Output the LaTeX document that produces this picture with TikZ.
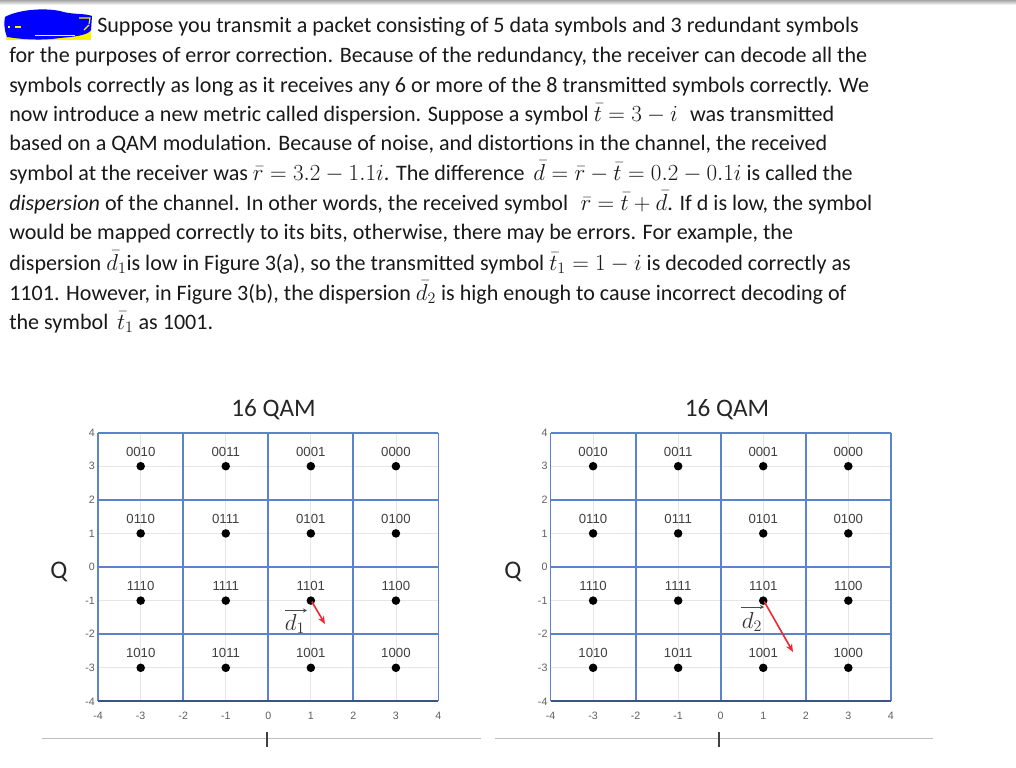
\documentclass[tikz,border=0pt]{standalone}
\usepackage{fontspec}
\usepackage{amsmath}
\setmainfont{Carlito}
\newfontfamily\plotfont{Liberation Sans}
\usetikzlibrary{arrows.meta}
\definecolor{gridblue}{RGB}{90,130,205}
\definecolor{txt}{RGB}{25,25,25}
\definecolor{ticktxt}{RGB}{95,95,95}
\definecolor{lightgrid}{RGB}{230,230,230}
\definecolor{ruleg}{RGB}{190,190,190}
\definecolor{redarrow}{RGB}{240,40,50}
\tikzset{
 x=0.75pt,y=-0.75pt,
 para/.style={anchor=base west,inner sep=0pt,text=txt,font=\fontsize{16.55}{20}\selectfont},
 title16/.style={inner sep=0pt,text=black!85,font=\fontsize{18.9}{22}\selectfont},
 qlabel/.style={inner sep=0pt,text=black!85,font=\fontsize{19}{22}\selectfont},
 ticklab/.style={inner sep=0pt,text=ticktxt,font=\plotfont\fontsize{8}{9}\selectfont},
 bitlab/.style={inner sep=0pt,text=black!75,font=\plotfont\fontsize{9.9}{11}\selectfont},
 symdot/.style={circle,fill=black,inner sep=0pt,minimum size=6.4pt},
 cellline/.style={gridblue,line width=1.35pt},
 faint/.style={lightgrid,line width=0.6pt},
 redvec/.style={redarrow,line width=1.2pt,-{Stealth[length=6pt,width=5pt]}},
 overvec/.style={black!70,line width=0.7pt,-{Stealth[length=3pt,width=3pt]}},
 vlabel/.style={inner sep=0pt,text=black!80,font=\fontsize{17}{20}\selectfont},
 baseline rule/.style={ruleg,line width=0.8pt},
 origin tick/.style={black!75,line width=1.1pt},
}
\newcommand{\qamplot}[4]{% #1 prefix, #2 left px, #3 zero px, #4 right px
 \pgfmathsetmacro{\unitx}{(#4-#2)/8}
 \foreach \k in {-3,-1,1,3}{
  \pgfmathsetmacro{\gx}{#3+\k*\unitx}
  \pgfmathsetmacro{\gy}{567-\k*33.6}
  \draw[faint] (\gx,432.7) -- (\gx,700.7);
  \draw[faint] (#2,\gy) -- (#4,\gy);
 }
 \foreach \k in {-4,-2,0,2,4}{
  \pgfmathsetmacro{\gx}{#3+\k*\unitx}
  \pgfmathsetmacro{\gy}{567-\k*33.6}
  \draw[cellline] (\gx,432.7) -- (\gx,700.7);
  \draw[cellline] (#2,\gy) -- (#4,\gy);
 }
 \draw[gridblue!65!black,line width=1.5pt] (#2,700.7) -- (#4,700.7);
 \foreach \k in {-4,...,4}{
  \pgfmathsetmacro{\gx}{#3+\k*\unitx}
  \pgfmathsetmacro{\gy}{567-\k*33.6}
  \node[ticklab] (#1tx\k) at (\gx,715.5) {\k};
  \node[ticklab,anchor=east] (#1ty\k) at (#2-3,\gy) {\k};
 }
 \foreach \px/\py/\bits in {-3/3/0010,-1/3/0011,1/3/0001,3/3/0000,
   -3/1/0110,-1/1/0111,1/1/0101,3/1/0100,
   -3/-1/1110,-1/-1/1111,1/-1/1101,3/-1/1100,
   -3/-3/1010,-1/-3/1011,1/-3/1001,3/-3/1000}{
  \pgfmathsetmacro{\gx}{#3+\px*\unitx}
  \pgfmathsetmacro{\gy}{567-\py*33.6}
  \node[symdot] (#1d\bits) at (\gx,\gy) {};
  \node[bitlab] (#1b\bits) at (\gx,\gy-14.5) {\bits};
 }
}
\begin{document}
\begin{tikzpicture}
\useasboundingbox (0,0) rectangle (1016,767);
\fill[white] (0,0) rectangle (1016,767);
\shade[top color=black!35,bottom color=white] (0,0) rectangle (1016,5);
% redaction
\fill[yellow] (6,31) rectangle (91,40);
\fill[blue] (5,17) .. controls (15,11) and (40,7) .. (60,11) .. controls (72,15) and (85,13) .. (92,16)
  -- (91,30) .. controls (88,36) and (70,37) .. (60,38) .. controls (40,41) and (20,39) .. (7,37) .. controls (4,30) and (4,22) .. (5,17) -- cycle;
\draw[yellow,line width=0.8pt] (8,27) -- (10,27);
\draw[yellow,line width=0.8pt] (15,27) -- (21,27);
\draw[yellow,line width=0.8pt] (79,18) -- (90,18) -- (89,24);
\draw[yellow,line width=0.8pt] (84,30) -- (89,25);
\draw[yellow!60!white,line width=0.6pt] (35,35) -- (75,35);
% paragraph
\node[para] (l1) at (97,33) {Suppose you transmit a packet consisting of 5 data symbols and 3 redundant symbols};
\node[para] (l2) at (9,63) {for the purposes of error correction. Because of the redundancy, the receiver can decode all the};
\node[para] (l3) at (9,92) {symbols correctly as long as it receives any 6 or more of the 8 transmitted symbols correctly. We};
\node[para] (l4) at (9,121) {now introduce a new metric called dispersion. Suppose a symbol $\bar{t}=3-i$\,\, was transmitted};
\node[para] (l5) at (9,150) {based on a QAM modulation. Because of noise, and distortions in the channel, the received};
\node[para] (l6) at (9,180) {symbol at the receiver was $\bar{r}=3.2-1.1i$. The difference $\,\bar{d}=\bar{r}-\bar{t}=0.2-0.1i$ is called the};
\node[para] (l7) at (9,210) {\textit{dispersion} of the channel. In other words, the received symbol\,\, $\bar{r}=\bar{t}+\bar{d}$. If d is low, the symbol};
\node[para] (l8) at (9,239) {would be mapped correctly to its bits, otherwise, there may be errors. For example, the};
\node[para] (l9) at (9,270) {dispersion $\bar{d}_1$is low in Figure 3(a), so the transmitted symbol $\bar{t}_1=1-i$ is decoded correctly as};
\node[para] (l10) at (9,300) {1101. However, in Figure 3(b), the dispersion $\bar{d}_2$ is high enough to cause incorrect decoding of};
\node[para] (l11) at (9,329) {the symbol\, $\bar{t}_1$ as 1001.};
% titles
\node[title16] (ta) at (273.5,410) {16 QAM};
\node[title16] (tb) at (727,410) {16 QAM};
\node[qlabel] (qa) at (59,572) {Q};
\node[qlabel] (qb) at (513,572) {Q};
% plots
\qamplot{a}{98}{268.3}{438.3}
\qamplot{b}{550.7}{720.7}{891}
% vectors
\coordinate (ea) at (325,624);
\coordinate (eb) at (793,652);
\draw[redvec] (ad1101.center) ++(1,1) -- (ea);
\draw[redvec] (bd1101.center) ++(1,1) -- (eb);
\node[vlabel] (va) at (295,624) {$d_1$};
\node[vlabel] (vb) at (752,622) {$d_2$};
\coordinate (vas) at (285,610.5);
\coordinate (vae) at (307,610.5);
\coordinate (vbs) at (741,607);
\coordinate (vbe) at (764,607);
\draw[overvec] (vas) -- (vae);
\draw[overvec] (vbs) -- (vbe);
% bottom rules
\coordinate (ra1) at (42,738.7);
\coordinate (ra2) at (481,738.7);
\coordinate (rb1) at (495,738.7);
\coordinate (rb2) at (933,738.7);
\draw[baseline rule] (ra1) -- (ra2);
\draw[baseline rule] (rb1) -- (rb2);
\coordinate (oa1) at (267,732);
\coordinate (oa2) at (267,747);
\coordinate (ob1) at (719,732);
\coordinate (ob2) at (719,747);
\draw[origin tick] (oa1) -- (oa2);
\draw[origin tick] (ob1) -- (ob2);
\end{tikzpicture}
\end{document}
